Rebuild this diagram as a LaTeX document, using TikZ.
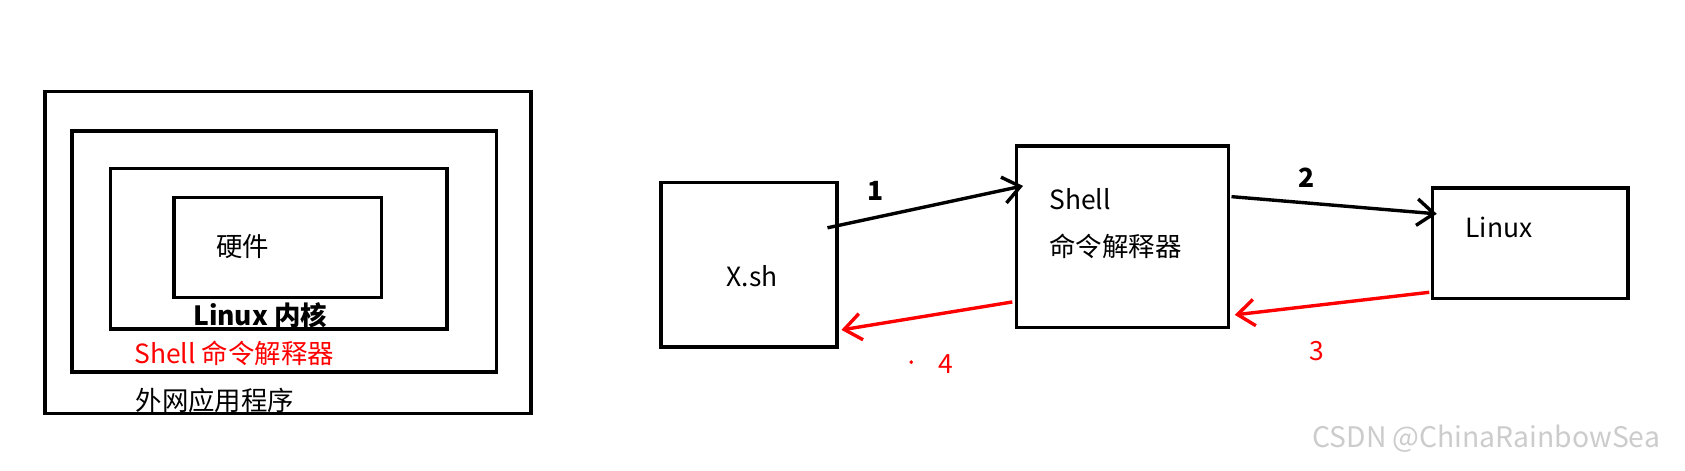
\documentclass[tikz,border=0pt]{standalone}
\usepackage{fontspec}
\setmainfont{Noto Sans CJK SC}
\usetikzlibrary{arrows.meta}
\begin{document}
\begin{tikzpicture}[x=0.02cm,y=-0.02cm,
  box/.style={draw,line width=1.8pt},
  lab/.style={font=\fontsize{14}{16}\selectfont,inner sep=0},
  arr/.style={line width=1.8pt,-{Straight Barb[length=9pt,width=14pt,line width=1.8pt]}}]
\useasboundingbox (0,0) rectangle (1568,438);
\draw[box] (42,85) rectangle (494,385);
\draw[box] (67,122) rectangle (462,346);
\draw[box] (103,157) rectangle (416,306);
\draw[box] (162,184) rectangle (355,277);
\node[lab] (hw) at (226,229) {硬件};
\node[lab,font=\fontsize{14}{16}\selectfont\bfseries] (kn) at (242,293) {Linux 内核};
\node[lab,text=red] (sh) at (218,329) {Shell 命令解释器};
\node[lab] (app) at (200,373) {外网应用程序};
\draw[box] (615,170) rectangle (779,323);
\draw[box] (946,136) rectangle (1143,305);
\draw[box] (1333,175) rectangle (1515,278);
\node[lab] (xsh) at (700,257) {X.sh};
\node[lab] (s1) at (1005,185) {Shell};
\node[lab] (s2) at (1038,229) {命令解释器};
\node[lab] (lx) at (1395,212) {Linux};
\coordinate (a1s) at (770,212); \coordinate (a1e) at (952,173);
\coordinate (a2s) at (1146,183); \coordinate (a2e) at (1337,199);
\coordinate (a3s) at (1330,272); \coordinate (a3e) at (1149,293);
\coordinate (a4s) at (942,281); \coordinate (a4e) at (783,307);
\draw[arr] (a1s) -- (a1e);
\draw[arr] (a2s) -- (a2e);
\draw[arr,red] (a3s) -- (a3e);
\draw[arr,red] (a4s) -- (a4e);
\node[lab,font=\fontsize{14}{16}\selectfont\bfseries] (n1) at (815,178) {1};
\node[lab,font=\fontsize{14}{16}\selectfont\bfseries] (n2) at (1216,165) {2};
\node[lab,text=red] (n3) at (1225,327) {3};
\node[lab,text=red] (n4) at (880,339) {4};
\fill[red] (848,337) circle (1.8);
\node[lab,text=black!20,font=\fontsize{15}{17}\selectfont] (wm) at (1383,408) {CSDN @ChinaRainbowSea};
\end{tikzpicture}
\end{document}
